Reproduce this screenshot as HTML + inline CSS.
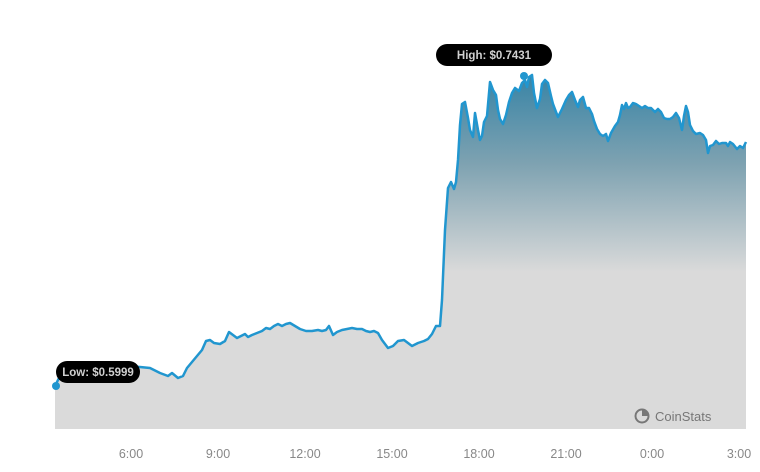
<!DOCTYPE html>
<html><head><style>
html,body{margin:0;padding:0;background:#fff;}
svg{display:block;font-family:"Liberation Sans",Arial,sans-serif;}
</style></head><body>
<svg width="760" height="472" viewBox="0 0 760 472">
<defs>
<linearGradient id="g" gradientUnits="userSpaceOnUse" x1="0" y1="75" x2="0" y2="272">
<stop offset="0" stop-color="#3884a6"/>
<stop offset="0.45" stop-color="#7ea2b1"/>
<stop offset="1" stop-color="#dadada"/>
</linearGradient>
</defs>
<polygon fill="url(#g)" points="55,429 55,386 60,376 70,370 85,368 100,367 115,366 125,366 140,367 150,368 160,373 168,376 172,373 178,378 183,376 187,368 192,362 197,356 202,350 206,341 210,340 214,343 220,344 225,341 229,332 233,335 237,338 241,336 245,334 248,337 252,335 257,333 262,331 266,328 270,329 274,326 278,324 282,326 286,324 290,323 295,326 300,329 306,331 312,331 318,330 322,331 326,330 329,326 333,335 337,332 342,330 347,329 352,328 357,329 362,329 366,331 370,332 374,331 378,333 382,340 388,348 393,346 398,341 404,340 408,343 412,346 418,343 424,341 428,339 432,334 436,326 440,326 442,300 445,230 448,188 451,182 454,189 456,182 458,160 460,125 462,104 465,102 468,118 470,130 473,137 475,113 478,130 480,140 482,136 484,122 487,116 490,82 493,90 496,95 498,110 500,119 503,124 506,115 509,102 512,93 515,88 519,91 522,83 525,80 527,87 529,77 532,75 534,93 537,108 540,99 542,84 545,80 548,83 551,96 553,104 556,112 558,117 562,109 566,100 569,95 572,92 575,100 578,107 580,100 583,97 586,108 589,108 592,114 594,121 597,129 600,134 603,136 606,134 608,141 611,133 615,126 618,122 620,115 622,105 624,109 626,103 628,108 630,107 633,103 636,104 639,106 642,108 645,106 648,108 651,108 655,112 658,109 661,112 664,118 667,119 670,119 673,117 676,113 679,118 682,130 684,116 686,106 688,112 690,125 693,131 696,134 700,133 703,135 706,140 708,153 710,146 713,145 716,141 719,144 722,143 726,143 728,146 730,142 733,144 737,149 740,146 743,148 746,142 746,429"/>
<polyline fill="none" stroke="#2196cf" stroke-width="2.5" stroke-linejoin="round" points="55,386 60,376 70,370 85,368 100,367 115,366 125,366 140,367 150,368 160,373 168,376 172,373 178,378 183,376 187,368 192,362 197,356 202,350 206,341 210,340 214,343 220,344 225,341 229,332 233,335 237,338 241,336 245,334 248,337 252,335 257,333 262,331 266,328 270,329 274,326 278,324 282,326 286,324 290,323 295,326 300,329 306,331 312,331 318,330 322,331 326,330 329,326 333,335 337,332 342,330 347,329 352,328 357,329 362,329 366,331 370,332 374,331 378,333 382,340 388,348 393,346 398,341 404,340 408,343 412,346 418,343 424,341 428,339 432,334 436,326 440,326 442,300 445,230 448,188 451,182 454,189 456,182 458,160 460,125 462,104 465,102 468,118 470,130 473,137 475,113 478,130 480,140 482,136 484,122 487,116 490,82 493,90 496,95 498,110 500,119 503,124 506,115 509,102 512,93 515,88 519,91 522,83 525,80 527,87 529,77 532,75 534,93 537,108 540,99 542,84 545,80 548,83 551,96 553,104 556,112 558,117 562,109 566,100 569,95 572,92 575,100 578,107 580,100 583,97 586,108 589,108 592,114 594,121 597,129 600,134 603,136 606,134 608,141 611,133 615,126 618,122 620,115 622,105 624,109 626,103 628,108 630,107 633,103 636,104 639,106 642,108 645,106 648,108 651,108 655,112 658,109 661,112 664,118 667,119 670,119 673,117 676,113 679,118 682,130 684,116 686,106 688,112 690,125 693,131 696,134 700,133 703,135 706,140 708,153 710,146 713,145 716,141 719,144 722,143 726,143 728,146 730,142 733,144 737,149 740,146 743,148 746,142"/>
<circle cx="524" cy="76" r="4" fill="#2196cf"/>
<circle cx="56" cy="386" r="4" fill="#2196cf"/>
<rect x="436" y="44" width="116" height="22" rx="11" fill="#000"/>
<text x="494" y="59" text-anchor="middle" font-size="11.5" font-weight="bold" fill="#d0d0d0">High: $0.7431</text>
<rect x="56" y="361" width="84" height="22" rx="11" fill="#000"/>
<text x="98" y="376" text-anchor="middle" font-size="11.5" font-weight="bold" fill="#d0d0d0">Low: $0.5999</text>
<g font-size="12.5" fill="#888" text-anchor="middle">
<text x="131" y="458">6:00</text><text x="218" y="458">9:00</text><text x="305" y="458">12:00</text><text x="392" y="458">15:00</text><text x="479" y="458">18:00</text><text x="566" y="458">21:00</text><text x="652" y="458">0:00</text><text x="739" y="458">3:00</text>
</g>
<circle cx="642" cy="416" r="6.5" fill="none" stroke="#777" stroke-width="2"/>
<path d="M642,416 L642,410 A6,6 0 0 1 648,416 Z" fill="#777"/>
<text x="655" y="421" font-size="13" fill="#777">CoinStats</text>
</svg>
</body></html>
